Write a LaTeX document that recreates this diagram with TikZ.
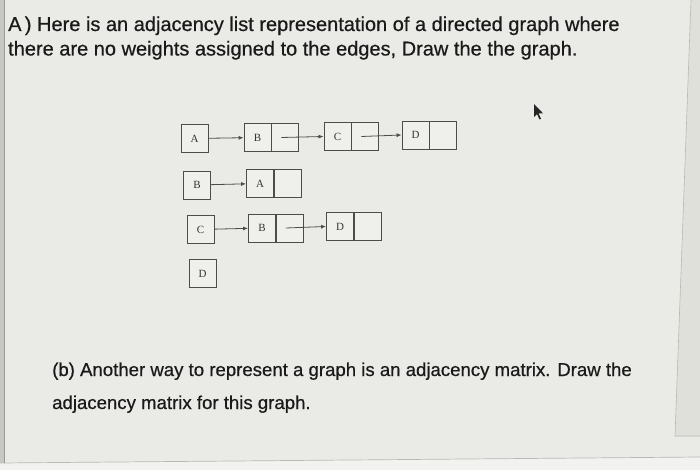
\documentclass[tikz,border=0pt]{standalone}
\usepackage{fontspec}
\setmainfont{Liberation Sans}
\newfontfamily\heavyfont{Liberation Sans}[FakeBold=0.6]
\newfontfamily\boxfont{Liberation Serif}
\usetikzlibrary{arrows.meta}
\definecolor{bg}{HTML}{EAEAE6}
\definecolor{bgright}{HTML}{E0E0DB}
\definecolor{bgbottom}{HTML}{F2F2F0}
\definecolor{edge}{HTML}{B9B9B4}
\definecolor{txt}{HTML}{1A1A1A}
\definecolor{boxline}{HTML}{4C4C4A}
\definecolor{boxfill}{HTML}{EFEFEC}
\tikzset{
  cell/.style={draw=boxline, line width=0.9pt, fill=boxfill, minimum width=27pt, minimum height=28pt, inner sep=0pt, font=\boxfont\fontsize{11}{13}\selectfont, text=boxline!70!black},
  ptr/.style={draw=boxline, line width=0.8pt, -{Latex[length=5pt,width=4pt]}},
  bigtext/.style={anchor=base west, inner sep=0pt, text=txt, font=\heavyfont\fontsize{20}{24}\selectfont},
  midtext/.style={anchor=base west, inner sep=0pt, text=txt, font=\heavyfont\fontsize{18.6}{22}\selectfont}
}
\begin{document}
\begin{tikzpicture}[x=1pt,y=-1pt]
\useasboundingbox (0,0) rectangle (700,470);
% background
\fill[bg] (0,0) rectangle (700,470);
\fill[bgright] (691,0) -- (700,0) -- (700,436) -- (675,436) -- cycle;
\draw[edge, line width=0.6pt] (691,0) -- (675,436) -- (700,436);
\fill[bgbottom] (0,463) -- (700,457) -- (700,470) -- (0,470) -- cycle;
\draw[edge, line width=0.7pt] (0,463) -- (700,457);
\fill[edge!70!bg] (0,0) rectangle (4,463);
\draw[gray!80, line width=0.8pt] (4,0) -- (4,463);

% texts
\node[bigtext] (t1) at (8,31) {A\,) Here is an adjacency list representation of a directed graph where};
\node[bigtext] (t2) at (8,55.5) {there are no weights assigned to the edges, Draw the the graph.};
\node[midtext] (b1) at (52,376) {(b) Another way to represent a graph is an adjacency matrix. Draw the};
\node[midtext] (b2) at (52,409) {adjacency matrix for this graph.};

% row 1
\node[cell] (a1) at (194.5,138.5) {A};
\node[cell] (b1l) at (257.5,137.5) {B};
\node[cell, anchor=west] (b1r) at (b1l.east) {};
\node[cell] (c1l) at (337.5,136.5) {C};
\node[cell, anchor=west] (c1r) at (c1l.east) {};
\node[cell] (d1l) at (415.5,135) {D};
\node[cell, anchor=west] (d1r) at (d1l.east) {};
\draw[ptr] (a1) -- (b1l);
\draw[ptr] ([xshift=-4pt]b1r.center) -- (c1l.west);
\draw[ptr] ([xshift=-4pt]c1r.center) -- (d1l.west);

% row 2
\node[cell] (b2) at (197,185) {B};
\node[cell] (a2l) at (260,183.5) {A};
\node[cell, anchor=west] (a2r) at (a2l.east) {};
\draw[ptr] (b2) -- (a2l);

% row 3
\node[cell] (c3) at (200.5,229.5) {C};
\node[cell] (b3l) at (262,228) {B};
\node[cell, anchor=west] (b3r) at (b3l.east) {};
\node[cell] (d3l) at (340,226.5) {D};
\node[cell, anchor=west] (d3r) at (d3l.east) {};
\draw[ptr] (c3) -- (b3l);
\draw[ptr] ([xshift=-4pt]b3r.center) -- (d3l.west);

% row 4
\node[cell] (d4) at (202.5,273.5) {D};

% mouse cursor
\fill[black!85] (534,104) -- (534,117) -- (537,114) -- (539.5,119.5) -- (541,118.8) -- (538.5,113.3) -- (543,113.3) -- cycle;
\end{tikzpicture}
\end{document}
